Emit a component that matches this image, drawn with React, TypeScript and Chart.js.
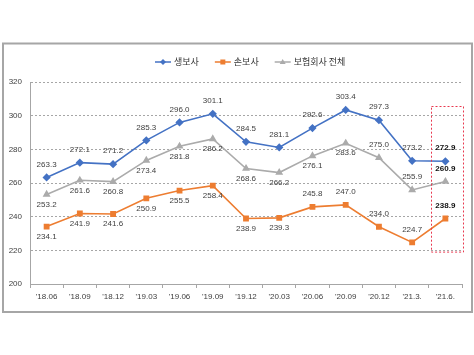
import React, { useEffect, useRef } from "react";
import { Chart, registerables } from "chart.js";

Chart.register(...registerables);

const categories = ["'18.06", "'18.09", "'18.12", "'19.03", "'19.06", "'19.09", "'19.12", "'20.03", "'20.06", "'20.09", "'20.12", "'21.3.", "'21.6."];
const lifeValues = [263.3, 272.1, 271.2, 285.3, 296.0, 301.1, 284.5, 281.1, 292.6, 303.4, 297.3, 273.2, 272.9];
const nonLifeValues = [234.1, 241.9, 241.6, 250.9, 255.5, 258.4, 238.9, 239.3, 245.8, 247.0, 234.0, 224.7, 238.9];
const totalValues = [253.2, 261.6, 260.8, 273.4, 281.8, 286.2, 268.6, 266.2, 276.1, 283.6, 275.0, 255.9, 260.9];
const seriesNames = ["생보사", "손보사", "보험회사 전체"];
// label placement: 1 = above, -1 = below
const lifePos = [1, 1, 1, 1, 1, 1, 1, 1, 1, 1, 1, 1, 1];
const nonLifePos = [-1, -1, -1, -1, -1, -1, -1, -1, 1, 1, 1, 1, 1];
const totalPos = [-1, -1, -1, -1, -1, -1, -1, -1, -1, -1, 1, 1, 1];
const yTicks = [200, 220, 240, 260, 280, 300, 320];

const BLUE = "#4472C4";
const ORANGE = "#ED7D31";
const GRAY = "#ABABAB";

export default function App() {
  const ref = useRef<HTMLCanvasElement | null>(null);
  useEffect(() => {
    document.body.style.margin = "0";
    const canvas = ref.current!;
    const posList = [lifePos, nonLifePos, totalPos];

    const framePlugin = {
      id: "frame",
      beforeDraw(chart: any) {
        const ctx = chart.ctx;
        ctx.save();
        ctx.fillStyle = "#ffffff";
        ctx.fillRect(0, 0, chart.width, chart.height);
        ctx.strokeStyle = "#A6A6A6";
        ctx.lineWidth = 2;
        ctx.strokeRect(3, 43.5, 469, 268.5);
        ctx.restore();
      },
      afterDraw(chart: any) {
        const ctx = chart.ctx;
        const xs = chart.scales.x;
        const ys = chart.scales.y;
        ctx.save();
        // legend
        const colors = [BLUE, ORANGE, GRAY];
        const styles = ["diamond", "square", "triangle"];
        const ly = 62;
        let lx = 155;
        ctx.font = "9px 'Noto Sans CJK KR'";
        ctx.textBaseline = "middle";
        for (let i = 0; i < 3; i++) {
          ctx.strokeStyle = colors[i];
          ctx.fillStyle = colors[i];
          ctx.lineWidth = 1.5;
          ctx.beginPath();
          ctx.moveTo(lx, ly);
          ctx.lineTo(lx + 16, ly);
          ctx.stroke();
          const cx = lx + 8;
          ctx.beginPath();
          if (styles[i] === "diamond") {
            ctx.moveTo(cx, ly - 3); ctx.lineTo(cx + 3, ly); ctx.lineTo(cx, ly + 3); ctx.lineTo(cx - 3, ly);
          } else if (styles[i] === "square") {
            ctx.rect(cx - 2.5, ly - 2.5, 5, 5);
          } else {
            ctx.moveTo(cx, ly - 3); ctx.lineTo(cx + 3, ly + 2); ctx.lineTo(cx - 3, ly + 2);
          }
          ctx.closePath();
          ctx.fill();
          ctx.fillStyle = "#333333";
          ctx.textAlign = "left";
          ctx.fillText(seriesNames[i], lx + 19, ly);
          const w = ctx.measureText(seriesNames[i]).width;
          lx += 19 + w + 16;
        }
        // data labels
        chart.data.datasets.forEach((ds: any, di: number) => {
          const meta = chart.getDatasetMeta(di);
          meta.data.forEach((pt: any, i: number) => {
            const last = i === ds.data.length - 1;
            ctx.font = (last ? "bold " : "") + "8px 'Liberation Sans'";
            ctx.fillStyle = last ? "#111111" : "#404040";
            ctx.textAlign = "center";
            ctx.textBaseline = "middle";
            const up = posList[di][i] === 1;
            const y = up ? pt.y - 13 : pt.y + 10;
            ctx.fillText(ds.data[i].toFixed(1), pt.x, y);
          });
        });
        // red dashed highlight box
        const n = categories.length - 1;
        const cx = xs.getPixelForValue(n) + 2;
        const half = 16;
        const top = ys.getPixelForValue(305.5);
        const bottom = ys.getPixelForValue(219);
        ctx.strokeStyle = "#E8384F";
        ctx.lineWidth = 1;
        ctx.setLineDash([2, 2]);
        ctx.strokeRect(Math.round(cx - half) + 0.5, Math.round(top) + 0.5, half * 2, bottom - top);
        ctx.restore();
      },
    };

    const chart = new Chart(canvas, {
      type: "line",
      data: {
        labels: categories,
        datasets: [
          { label: seriesNames[0], data: lifeValues, borderColor: BLUE, backgroundColor: BLUE, pointStyle: "rectRot", pointRadius: 3, borderWidth: 1.6 },
          { label: seriesNames[1], data: nonLifeValues, borderColor: ORANGE, backgroundColor: ORANGE, pointStyle: "rect", pointRadius: 3, borderWidth: 1.6 },
          { label: seriesNames[2], data: totalValues, borderColor: GRAY, backgroundColor: GRAY, pointStyle: "triangle", pointRadius: 3, borderWidth: 1.6 },
        ],
      },
      options: {
        responsive: false,
        animation: false,
        events: [],
        layout: { padding: { top: 82, bottom: 47, left: 0, right: 12 } },
        plugins: { legend: { display: false }, tooltip: { enabled: false } },
        scales: {
          x: {
            offset: true,
            grid: { display: true, offset: true, drawOnChartArea: false, drawTicks: true, tickLength: 4, color: "#A6A6A6" },
            border: { color: "#A6A6A6", width: 1 },
            ticks: { color: "#404040", font: { size: 8, family: "'Liberation Sans'" }, maxRotation: 0, autoSkip: false, padding: 4 },
            afterFit(scale: any) { scale.height = 24; },
          },
          y: {
            min: 200,
            max: 320,
            afterBuildTicks(scale: any) { scale.ticks = yTicks.map((v) => ({ value: v })); },
            grid: {
              color: (c: any) => (c.tick && c.tick.value === 200 ? "rgba(0,0,0,0)" : "#A6A6A6"),
              drawTicks: false,
            },
            border: { display: true, color: "#A6A6A6", dash: [2, 2] },
            ticks: { color: "#404040", font: { size: 8, family: "'Liberation Sans'" }, padding: 8 },
            afterFit(scale: any) { scale.width = 30; },
          },
        },
      },
      plugins: [framePlugin],
    } as any);
    return () => chart.destroy();
  }, []);
  return <canvas ref={ref} width={474} height={355} style={{ display: "block" }} />;
}
